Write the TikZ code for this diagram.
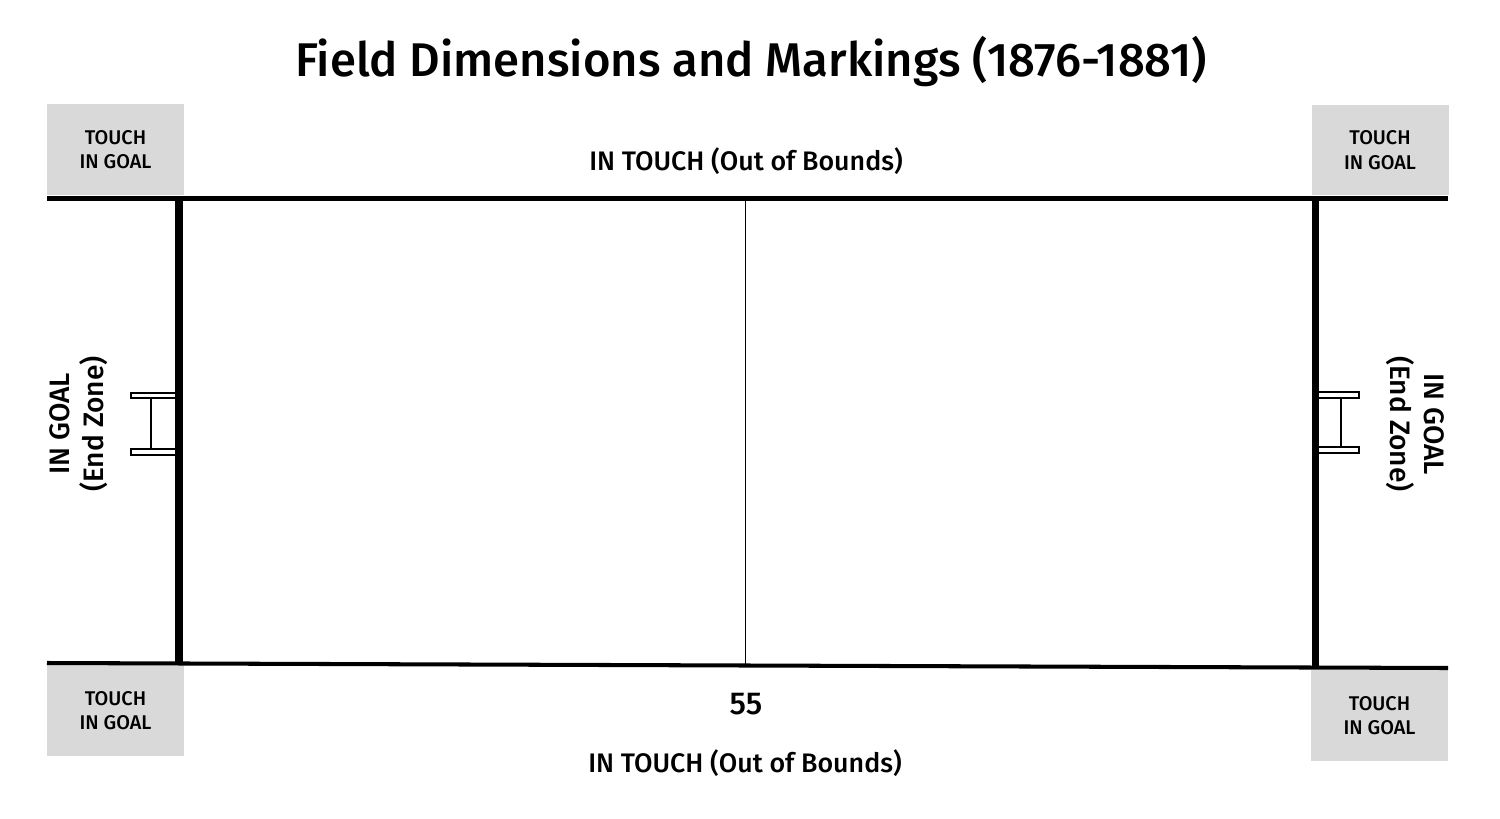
\documentclass[tikz,border=0pt]{standalone}
\usepackage{fontspec}
\setmainfont{Fira Sans Medium}
\usepackage{xcolor}
\definecolor{boxgray}{HTML}{D9D9D9}

\tikzset{
  tig/.style={fill=boxgray, align=center, inner sep=0pt,
    minimum width=2.74cm, minimum height=1.82cm, font=\fontsize{11.3}{14}\selectfont},
  side/.style={align=center, font=\fontsize{15.25}{19}\selectfont},
  post/.style={line width=0.8pt}
}

\begin{document}
\begin{tikzpicture}[x=0.02cm,y=-0.02cm]
        \useasboundingbox (0,0) rectangle (1500,818);

        % title
        \node (title) at (751,62) {\fontsize{26.9}{32}\selectfont Field Dimensions and Markings (1876-1881)};

        % touch in goal corners
        \node[tig] (tigTL) at (115.5,149.5) {TOUCH\\IN GOAL};
        \node[tig] (tigTR) at (1380,150) {TOUCH\\IN GOAL};
        \node[tig] (tigBL) at (115.5,710.5) {TOUCH\\IN GOAL};
        \node[tig] (tigBR) at (1379.5,715.5) {TOUCH\\IN GOAL};

        % touch lines
        \draw[line width=2.3pt] (47,198.5) -- (1448,198.5);
        \draw[line width=2.3pt] (47,663) -- (1448,668);

        % goal lines and half way
        \draw[line width=4pt] (179,198.5) -- (179,663);
        \draw[line width=4pt] (1315.5,198.5) -- (1315.5,668);
        \draw[line width=0.5pt] (745,198.5) -- (745,665.5);

        % goal posts
        \draw[post] (131,393) rectangle (177,398);
        \draw[post] (131,449) rectangle (177,455);
        \draw[post] (151,398) -- (151,449);
        \draw[post] (1314,392) rectangle (1359,398);
        \draw[post] (1314,447) rectangle (1359,453);
        \draw[post] (1341,398) -- (1341,447);

        % labels
        \node[side] (touchTop) at (746,161) {IN TOUCH (Out of Bounds)};
        \node[side] (touchBot) at (745,763) {IN TOUCH (Out of Bounds)};
        \node (dist) at (746,704) {\fontsize{18}{22}\selectfont 55};
        \node[side, font=\fontsize{16}{19.5}\selectfont, rotate=90] (goalL) at (79,424) {IN GOAL\\(End Zone)};
        \node[side, font=\fontsize{16}{19.5}\selectfont, rotate=-90] (goalR) at (1415.5,424) {IN GOAL\\(End Zone)};

    \end{tikzpicture}
\end{document}
